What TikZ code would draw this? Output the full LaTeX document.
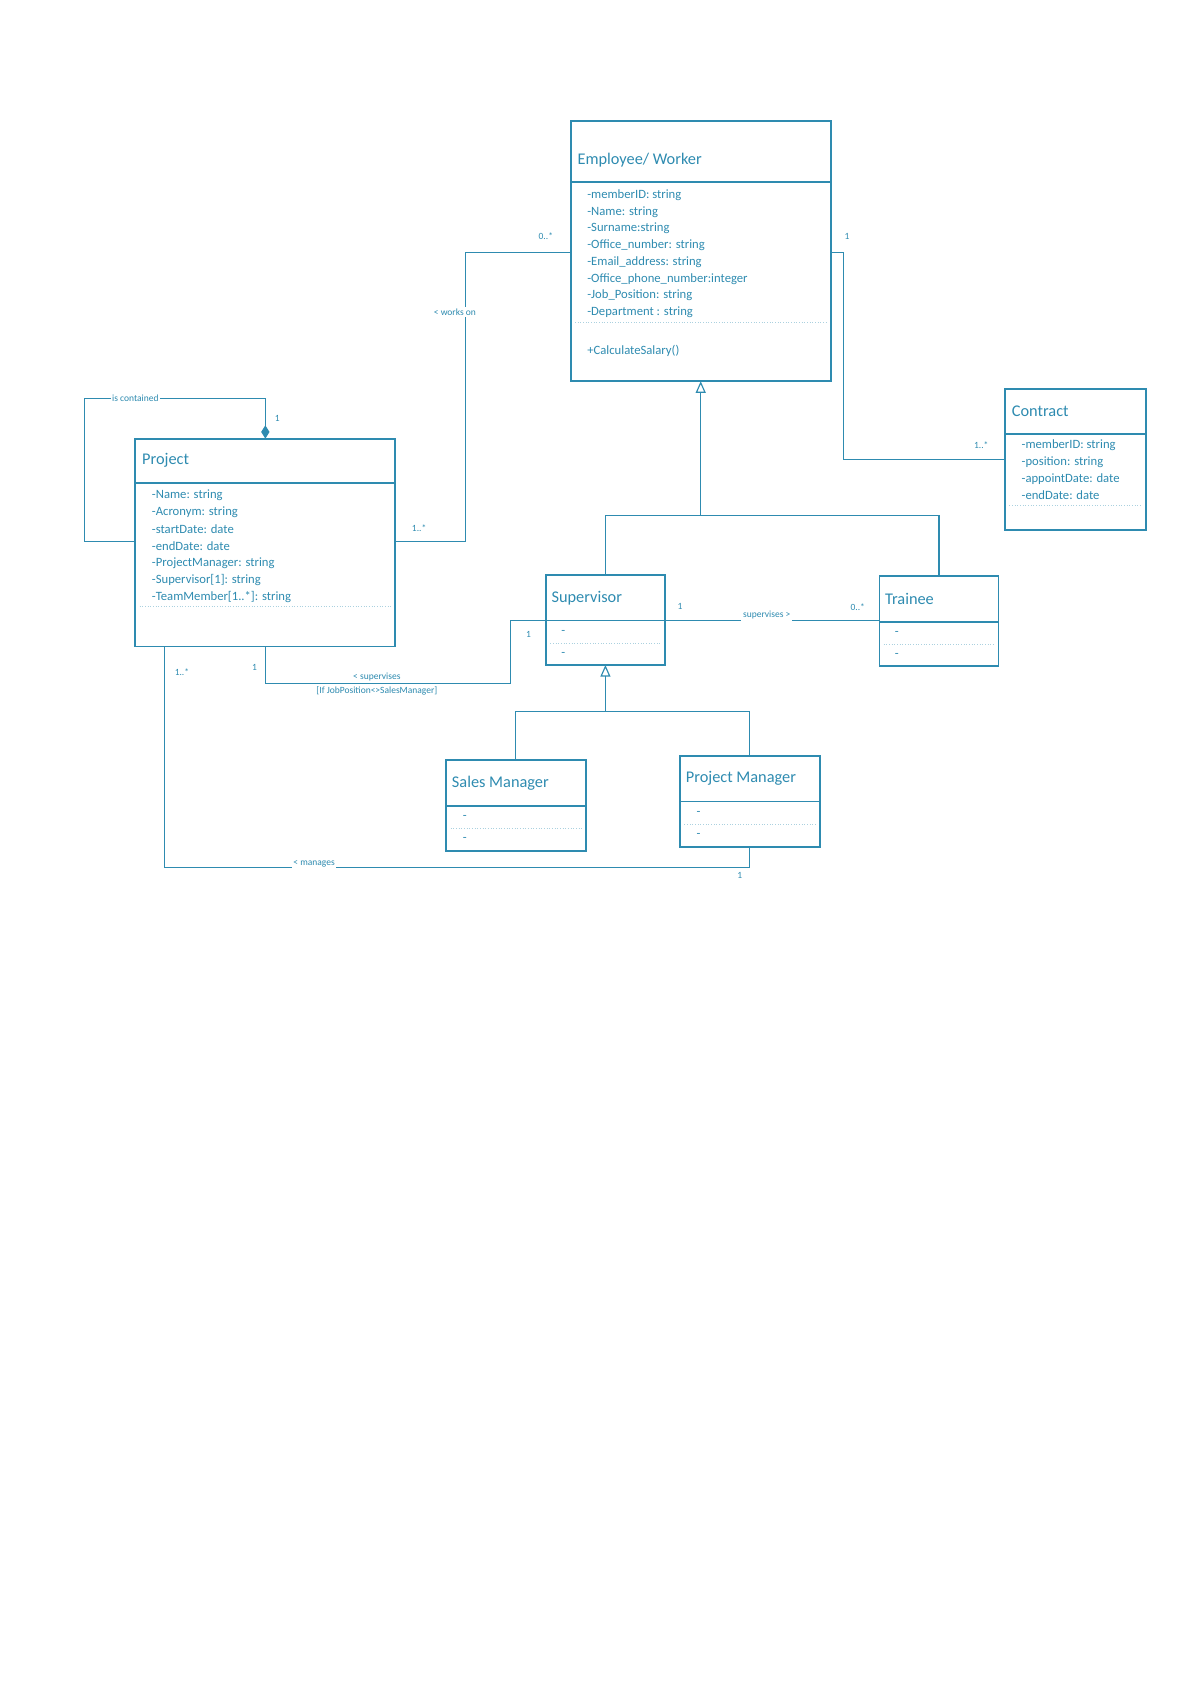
\documentclass[tikz,border=0pt]{standalone}
\usepackage{fontspec}
\setmainfont{Carlito}
\usetikzlibrary{fit,arrows.meta}
\definecolor{uml}{HTML}{2E8BB0}
\tikzset{
  box/.style={draw=uml, line width=1.1pt, inner sep=0pt},
  ttl/.style={text=uml, font=\fontsize{9.8}{11}\selectfont, anchor=west, inner sep=0pt},
  attr/.style={text=uml, font=\fontsize{7.6}{8.5}\selectfont, anchor=west, inner sep=0pt},
  lbl/.style={text=uml, font=\fontsize{5.7}{6.5}\selectfont, inner sep=1pt},
  con/.style={draw=uml, line width=0.7pt},
  sep/.style={draw=uml, line width=1.1pt},
  dots/.style={draw=uml!40, line width=0.6pt, densely dotted},
  gen/.style={con, -{Triangle[open, length=7pt, width=6pt]}},
  comp/.style={con, -{Diamond[fill=uml, length=8pt, width=5pt]}}
}
\begin{document}
\begin{tikzpicture}[x=0.65pt, y=-0.65pt]
\useasboundingbox (0,0) rectangle (1108,1566);
% Employee
\node[box, fit={(527,112) (767,352)}] (emp) {};
\draw[sep] (527,168) -- (767,168);
\node[ttl] (empt) at (533,148) {Employee/ Worker};
\foreach \t [count=\i] in {-memberID: string,-Name: string,-Surname:string,-Office\_number: string,-Email\_address: string,-Office\_phone\_number:integer,-Job\_Position: string,-Department : string}
  \node[attr] (ea\i) at (542,180+15.5*\i-15.5) {\t};
\draw[dots] (531,298) -- (763,298);
\node[attr] (em) at (542,324) {+CalculateSalary()};
% Contract
\node[box, fit={(928,359) (1058,489)}] (con) {};
\draw[sep] (928,401) -- (1058,401);
\node[ttl] (cont) at (934,380) {Contract};
\foreach \t [count=\i] in {-memberID: string,-position: string,-appointDate: date,-endDate: date}
  \node[attr] (ca\i) at (943,411+15.5*\i-15.5) {\t};
\draw[dots] (932,467) -- (1054,467);
% Project
\node[box, fit={(125,405) (365,597)}] (prj) {};
\draw[sep] (125,446) -- (365,446);
\node[ttl] (prjt) at (131,425) {Project};
\foreach \t [count=\i] in {-Name: string,-Acronym: string,-startDate: date,-endDate: date,-ProjectManager: string,-Supervisor[1]: string,-TeamMember[1..*]: string}
  \node[attr] (pa\i) at (140,457+15.7*\i-15.7) {\t};
\draw[dots] (129,560) -- (361,560);
% Supervisor
\node[box, fit={(504,531) (614,614)}] (sup) {};
\draw[sep] (504,573) -- (614,573);
\node[ttl] (supt) at (509,552) {Supervisor};
\node[attr] (sa1) at (518,584) {-};
\draw[dots] (508,594) -- (610,594);
\node[attr] (sa2) at (518,604) {-};
% Trainee
\node[box, fit={(812,532) (922,615)}] (tra) {};
\draw[sep] (812,574) -- (922,574);
\node[ttl] (trat) at (817,553) {Trainee};
\node[attr] (ta1) at (826,585) {-};
\draw[dots] (816,595) -- (918,595);
\node[attr] (ta2) at (826,605) {-};
% Sales Manager
\node[box, fit={(412,702) (541,786)}] (sm) {};
\draw[sep] (412,744) -- (541,744);
\node[ttl] (smt) at (417,723) {Sales Manager};
\node[attr] (sma1) at (427,755) {-};
\draw[dots] (416,765) -- (537,765);
\node[attr] (sma2) at (427,775) {-};
% Project Manager
\node[box, fit={(628,698) (757,782)}] (pm) {};
\draw[sep] (628,740) -- (757,740);
\node[ttl] (pmt) at (633,719) {Project Manager};
\node[attr] (pma1) at (643,751) {-};
\draw[dots] (632,761) -- (753,761);
\node[attr] (pma2) at (643,771) {-};
% connection points
\coordinate (empW) at (527,233);
\coordinate (empE) at (767,233);
\coordinate (empS) at (647,352);
\coordinate (prjE) at (365,500);
\coordinate (prjW) at (125,500);
\coordinate (prjN) at (245,405);
\coordinate (prjS1) at (245,597);
\coordinate (prjS2) at (152,597);
\coordinate (conW) at (928,424);
\coordinate (supN) at (559,531);
\coordinate (supE) at (614,573);
\coordinate (supW) at (504,573);
\coordinate (supS) at (559,614);
\coordinate (traN) at (867,532);
\coordinate (traW) at (812,573);
\coordinate (smN) at (476,702);
\coordinate (pmN) at (692,698);
\coordinate (pmS) at (692,782);
% works on
\draw[con] (prjE) -| (430,233) -- (empW);
\node[lbl] (l1) at (504,218) {0..*};
\node[lbl, fill=white] (l2) at (420,288) {< works on};
\node[lbl] (l3) at (387,488) {1..*};
% is contained
\draw[comp] (prjW) -| (78,368) -| (prjN);
\node[lbl, fill=white] (l4) at (125,368) {is contained};
\node[lbl] (l5) at (256,386) {1};
% contract
\draw[con] (empE) -| (779,424) -- (conW);
\node[lbl] (l6) at (782,218) {1};
\node[lbl] (l7) at (906,411) {1..*};
% generalization to Employee
\draw[gen] (647,476) -- (empS);
\draw[con] (supN) |- (647,476) -| (traN);
% supervises >
\draw[con] (supE) -- (traW);
\node[lbl] (l8) at (628,560) {1};
\node[lbl, fill=white] (l9) at (708,568) {supervises >};
\node[lbl] (l10) at (792,561) {0..*};
% < supervises
\draw[con] (prjS1) |- (471,631) |- (supW);
\node[lbl] (l11) at (235,616) {1};
\node[lbl] (l12) at (488,586) {1};
\node[lbl, fill=white] (l13) at (348,625) {< supervises};
\node[lbl, fill=white] (l14) at (348,638) {[If JobPosition<>SalesManager]};
% generalization to Supervisor
\draw[gen] (559,657) -- (supS);
\draw[con] (smN) |- (559,657) -| (pmN);
% manages
\draw[con] (prjS2) |- (692,801) -- (pmS);
\node[lbl] (l15) at (168,621) {1..*};
\node[lbl, fill=white] (l16) at (290,798) {< manages};
\node[lbl] (l17) at (683,808) {1};
\end{tikzpicture}
\end{document}
